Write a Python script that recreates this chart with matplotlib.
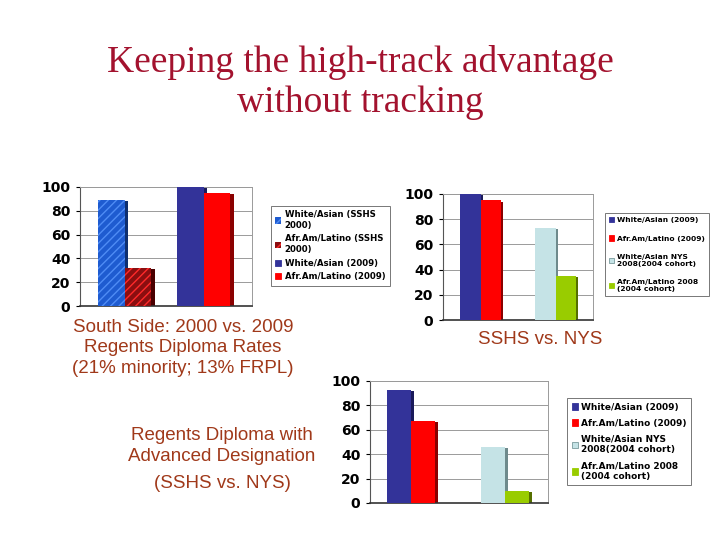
import matplotlib.pyplot as plt
from matplotlib.patches import Patch

# chart data
labels_1 = ['White/Asian (SSHS\n2000)', 'Afr.Am/Latino (SSHS\n2000)',
            'White/Asian (2009)', 'Afr.Am/Latino (2009)']
values_1 = [89, 32, 100, 95]

labels_2 = ['White/Asian (2009)', 'Afr.Am/Latino (2009)',
            'White/Asian NYS\n2008(2004 cohort)', 'Afr.Am/Latino 2008\n(2004 cohort)']
values_2 = [100, 95, 73, 35]
values_3 = [93, 67, 46, 10]

yticks = [0, 20, 40, 60, 80, 100]

colors_1 = ['#1E5BD0', '#8A0E10', '#333399', '#FF0000']
hatches_1 = ['////', '////', None, None]
hatchcol_1 = ['#4F8CF5', '#FF2A2A', None, None]
colors_2 = ['#333399', '#FF0000', '#C5E3E6', '#99CC00']
shade_2 = ['#1A1A5A', '#8A0000', '#6E8A8C', '#556F00']
shade_1 = ['#0E2F70', '#4A0000', '#1A1A5A', '#8A0000']

W, H = 720, 540
fig = plt.figure(figsize=(7.2, 5.4), dpi=100)
fig.patch.set_facecolor('white')

title_col = '#A3122E'
text_col = '#A0391A'


def px_axes(x0, y0, x1, y1):
    return fig.add_axes([x0 / W, 1 - y1 / H, (x1 - x0) / W, (y1 - y0) / H])


def style_axes(ax):
    ax.set_ylim(0, 100)
    ax.set_xlim(0, 2)
    ax.set_yticks(yticks)
    ax.set_xticks([])
    ax.tick_params(axis='y', labelsize=10, length=3, width=0.8, pad=4)
    for t in ax.get_yticklabels():
        t.set_fontweight('bold')
    ax.yaxis.grid(True, color='#9A9A9A', linewidth=0.7)
    ax.set_axisbelow(True)
    for s in ['top', 'right']:
        ax.spines[s].set_color('#9A9A9A')
        ax.spines[s].set_linewidth(0.7)
    ax.spines['left'].set_color('#555555')
    ax.spines['bottom'].set_color('#333333')
    ax.spines['bottom'].set_linewidth(1.2)


def draw_bars(ax, xs, vals, width, faces, shades, hatches=None, hcols=None):
    for i, (x, v) in enumerate(zip(xs, vals)):
        # dark side for a bit of 3D look
        ax.bar(x + width * 0.12, v - 1, width=width, bottom=0, color=shades[i],
               zorder=2, linewidth=0)
        if hatches and hatches[i]:
            ax.bar(x, v, width=width, color=faces[i], edgecolor=hcols[i],
                   hatch=hatches[i], linewidth=0, zorder=3)
        else:
            ax.bar(x, v, width=width, color=faces[i], linewidth=0, zorder=3)


def add_legend(ax, labels, cols, hatches, hcols, x, y, spacing, size):
    handles = []
    for i, lab in enumerate(labels):
        if hatches and hatches[i]:
            handles.append(Patch(facecolor=cols[i], edgecolor=hcols[i], hatch=hatches[i], linewidth=0, label=lab))
        else:
            edge = '#7A9A9C' if cols[i] == '#C5E3E6' else cols[i]
            handles.append(Patch(facecolor=cols[i], edgecolor=edge, linewidth=0.6, label=lab))
    leg = ax.legend(handles=handles, loc='upper left', bbox_to_anchor=(x / W, 1 - y / H),
                    bbox_transform=fig.transFigure, frameon=True,
                    fancybox=False, handlelength=0.7, handleheight=0.7, handletextpad=0.4,
                    labelspacing=spacing, borderpad=0.5, borderaxespad=0,
                    prop={'weight': 'bold', 'size': size})
    leg.get_frame().set_edgecolor('#555555')
    leg.get_frame().set_linewidth(0.7)


# chart 1
ax1 = px_axes(80, 187, 252, 306)
style_axes(ax1)
bw1 = 0.31
x1 = [0.52 - bw1 / 2, 0.52 + bw1 / 2, 1.44 - bw1 / 2, 1.44 + bw1 / 2]
draw_bars(ax1, x1, values_1, bw1, colors_1, shade_1, hatches_1, hatchcol_1)
add_legend(ax1, labels_1, colors_1, hatches_1, hatchcol_1, 271, 206, 0.55, 6.2)

# chart 2
ax2 = px_axes(443, 194, 593, 320)
style_axes(ax2)
bw2 = 0.27
x2 = [0.5 - bw2 / 2, 0.5 + bw2 / 2, 1.5 - bw2 / 2, 1.5 + bw2 / 2]
draw_bars(ax2, x2, values_2, bw2, colors_2, shade_2)
add_legend(ax2, labels_2, colors_2, None, None, 605, 213, 1.65, 5.4)

# chart 3
ax3 = px_axes(370, 381, 548, 503)
style_axes(ax3)
bw3 = 0.27
x3 = [0.46 - bw3 / 2, 0.46 + bw3 / 2, 1.52 - bw3 / 2, 1.52 + bw3 / 2]
draw_bars(ax3, x3, values_3, bw3, colors_2, shade_2)
add_legend(ax3, labels_2, colors_2, None, None, 567, 398, 0.8, 6.5)

# title and notes
fig.text(360 / W, 1 - 62 / H, 'Keeping the high-track advantage', ha='center', va='center',
         fontsize=27, color=title_col, family='Liberation Serif')
fig.text(360 / W, 1 - 103 / H, 'without tracking', ha='center', va='center',
         fontsize=27, color=title_col, family='Liberation Serif')

fig.text(183 / W, 1 - 348 / H,
         'South Side: 2000 vs. 2009\nRegents Diploma Rates\n(21% minority; 13% FRPL)',
         ha='center', va='center', fontsize=13.5, color=text_col, linespacing=1.25,
         family='Liberation Sans')
fig.text(540 / W, 1 - 339 / H, 'SSHS vs. NYS', ha='center', va='center', fontsize=13.5,
         color=text_col, family='Liberation Sans')
fig.text(222 / W, 1 - 446 / H, 'Regents Diploma with\nAdvanced Designation',
         ha='center', va='center', fontsize=13.5, color=text_col, linespacing=1.3,
         family='Liberation Sans')
fig.text(222 / W, 1 - 484 / H, '(SSHS vs. NYS)', ha='center', va='center', fontsize=13.5,
         color=text_col, family='Liberation Sans')

fig.savefig('out.png', dpi=100)
